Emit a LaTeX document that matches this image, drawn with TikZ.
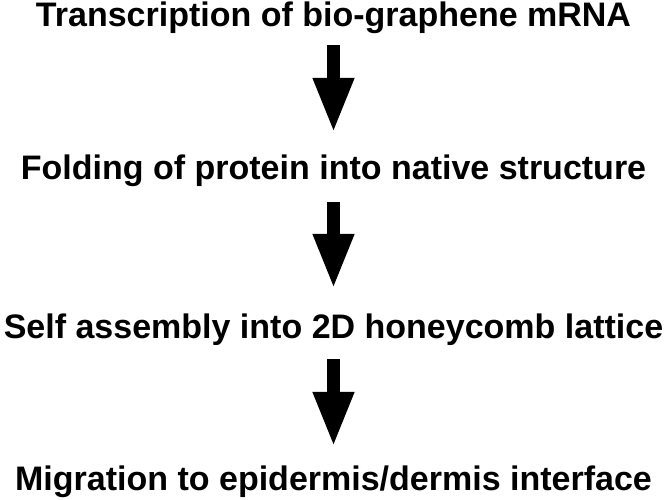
\documentclass[tikz,border=0pt]{standalone}
\usepackage{fontspec}
\setmainfont{Liberation Sans}
\usetikzlibrary{arrows.meta}
\begin{document}
\begin{tikzpicture}[x=1pt,y=-1pt,
	stage/.style={anchor=base,inner sep=0pt,text height=24pt,text depth=7pt,
		font=\fontsize{34pt}{38pt}\selectfont\bfseries},
	flow/.style={line width=13pt,-{Triangle[width=38pt,length=55pt]}}]
	\useasboundingbox (0,0) rectangle (667,500);
	% the four steps
	\node[stage] (t1) at (333.5,27) {Transcription of bio-graphene mRNA};
	\node[stage] (t2) at (333.5,179) {Folding of protein into native structure};
	\node[stage] (t3) at (333.5,338) {Self assembly into 2D honeycomb lattice};
	\node[stage] (t4) at (333.5,490) {Migration to epidermis/dermis interface};
	% arrows
	\draw[flow,shorten <=11pt,shorten >=22pt] (t1) -- (t2);
	\draw[flow,shorten <=16pt,shorten >=25pt] (t2) -- (t3);
	\draw[flow,shorten <=14pt,shorten >=19pt] (t3) -- (t4);
\end{tikzpicture}
\end{document}
